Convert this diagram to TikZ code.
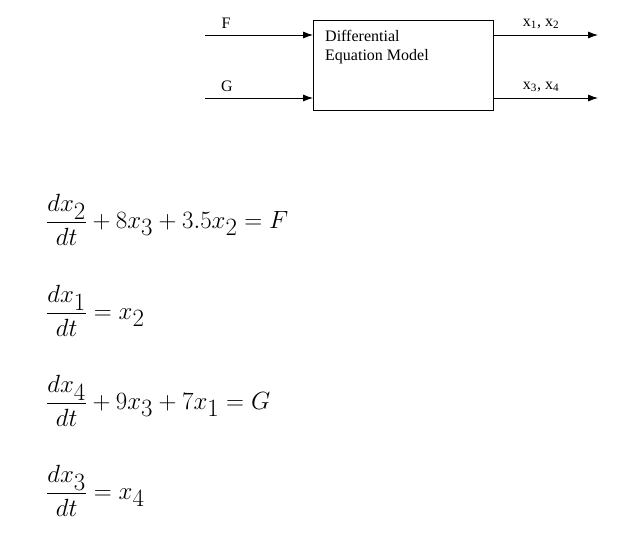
\documentclass[tikz,border=0pt]{standalone}
\usepackage{fontspec}
\setmainfont{Liberation Serif}
\usetikzlibrary{arrows.meta}
\begin{document}
\begin{tikzpicture}[x=1pt,y=-1pt,
  ar/.style={-{Latex[length=10pt,width=7pt]},line width=0.8pt},
  lbl/.style={font=\fontsize{16}{19}\selectfont,inner sep=0pt},
  eq/.style={anchor=west,inner sep=0pt,font=\fontsize{39}{46}\selectfont}]
\useasboundingbox (0,0) rectangle (630,550);
\node[draw,line width=0.8pt,minimum width=180pt,minimum height=90pt,anchor=north west,inner sep=0pt] (blk) at (313,20) {};
\node[lbl,anchor=north west,align=left] (txt) at (325,30) {Differential\\Equation Model};
\coordinate (fin) at (205,35); \coordinate (gin) at (205,98);
\coordinate (o1) at (598,35); \coordinate (o2) at (598,98);
\draw[ar] (fin) -- (blk.west |- fin);
\draw[ar] (gin) -- (blk.west |- gin);
\draw[ar] (blk.east |- fin) -- (o1);
\draw[ar] (blk.east |- gin) -- (o2);
\node[lbl] (lf) at (226,23) {F};
\node[lbl] (lg) at (227,86) {G};
\node[lbl] (l1) at (541,24) {x\textsubscript{1}, x\textsubscript{2}};
\node[lbl] (l2) at (541,87) {x\textsubscript{3}, x\textsubscript{4}};
\node[eq] (e1) at (46,220) {$\displaystyle\frac{dx_2}{dt}+8x_3+3.5x_2=F$};
\node[eq] (e2) at (46,311) {$\displaystyle\frac{dx_1}{dt}=x_2$};
\node[eq] (e3) at (46,401) {$\displaystyle\frac{dx_4}{dt}+9x_3+7x_1=G$};
\node[eq] (e4) at (46,491) {$\displaystyle\frac{dx_3}{dt}=x_4$};
\end{tikzpicture}
\end{document}
